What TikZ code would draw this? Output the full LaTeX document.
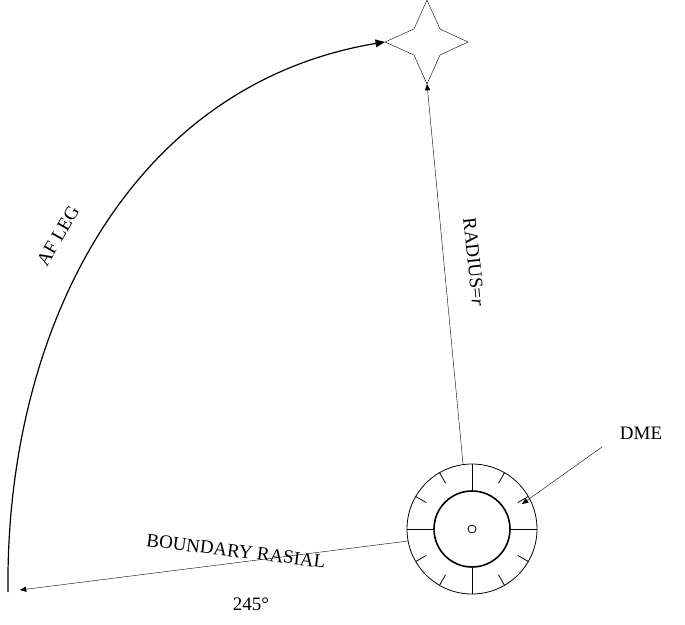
\documentclass[tikz,border=0pt]{standalone}
\usepackage{fontspec}
\setmainfont{Liberation Serif}
\usetikzlibrary{arrows,calc}
\tikzset{>=triangle 45,lbl/.style={font=\fontsize{19}{19}\selectfont,inner sep=1pt}}

\begin{document}
\begin{tikzpicture}[x=1pt,y=-1pt]
\useasboundingbox (0,0) rectangle (685,624);
% DME symbol
\coordinate (dme) at (472,529);
\draw[thick] (dme) circle (65);
\draw[line width=1.6pt] (dme) circle (38);
\draw[thick] (dme) circle (4);
\foreach \a in {0,90,180,270}
  \draw[thick] ($(dme)+(\a:38)$) -- ($(dme)+(\a:65)$);
\foreach \a in {30,60,120,150,210,240,300,330}
  \draw[thick] ($(dme)+(\a:53)$) -- ($(dme)+(\a:65)$);
% star
\coordinate (st) at (427,42);
\draw (427,0) -- (440,29) -- (468,42) -- (440,55) -- (427,84) -- (414,55)
  -- (385,42) -- (414,29) -- cycle;
\coordinate (stl) at (385,42);
\coordinate (stb) at (427,84);
\coordinate (dmetop) at (463,464);
\coordinate (dmeleft) at (408,541);
\coordinate (arcend) at (8,592);
\coordinate (radend) at (20,590);
\coordinate (dmetail) at (602,447);
\coordinate (dmehead) at (522,504);
% connectors
\draw[->] (dmetop) -- (stb);
\draw[->,line width=1.2pt] (arcend) .. controls (5,330) and (130,80) .. (stl);
\draw[->] (dmeleft) -- (radend);
\draw[->] (dmetail) -- (dmehead);
% labels
\node[lbl] (dmel) at (641,433) {DME};
\node[lbl,rotate=-7] (bnd) at (236,551) {BOUNDARY RASIAL};
\node[lbl] (crs) at (251,604) {245°};
\node[lbl,rotate=60] (leg) at (58,236) {AF LEG};
\node[lbl,rotate=-84] (rad) at (474,262) {RADIUS=\textit{r}};
\end{tikzpicture}
\end{document}
